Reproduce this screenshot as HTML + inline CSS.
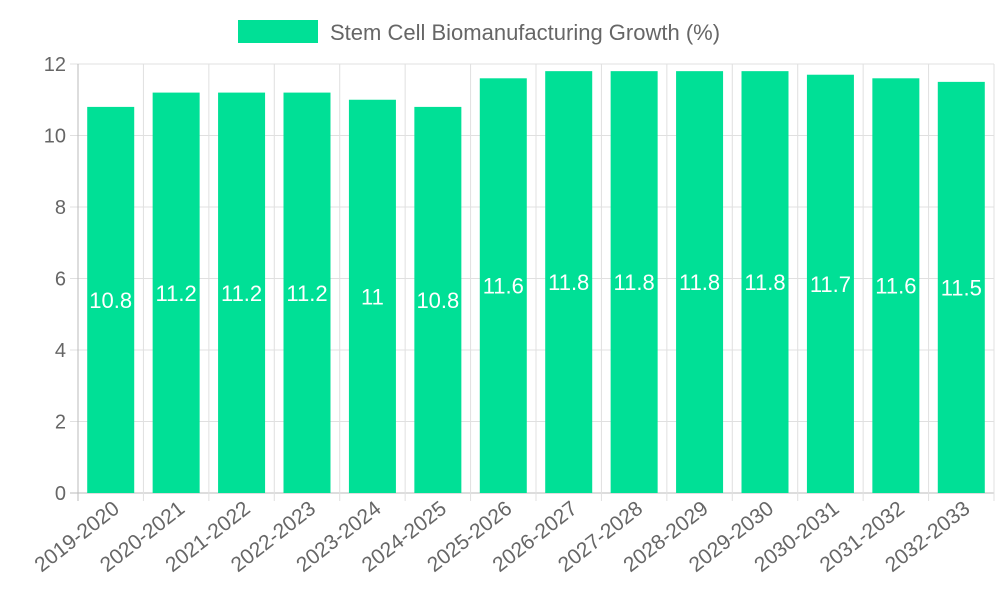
<!DOCTYPE html>
<html><head><meta charset="utf-8"><style>
body{margin:0;background:#fff;}
svg{display:block;font-family:"Liberation Sans",sans-serif;}
</style></head><body>
<svg id="chart" width="1000" height="600">
<g>
<rect x="238" y="20" width="80" height="23" fill="#00e096"/>
<text x="330" y="40" font-size="22" fill="#666">Stem Cell Biomanufacturing Growth (%)</text>
</g>
<g id="grid"></g><g id="bars"></g><g id="labels"></g>
</svg>
<script>
const categories=["2019-2020","2020-2021","2021-2022","2022-2023","2023-2024","2024-2025","2025-2026","2026-2027","2027-2028","2028-2029","2029-2030","2030-2031","2031-2032","2032-2033"];
const values=[10.8,11.2,11.2,11.2,11,10.8,11.6,11.8,11.8,11.8,11.8,11.7,11.6,11.5];
const yTicks=[0,2,4,6,8,10,12];
const NS="http://www.w3.org/2000/svg";
const L=78,R=994,T=64,B=493,yMax=12;
const bw=(R-L)/categories.length;
const y=v=>B-(v/yMax)*(B-T);
const x=i=>L+bw*i;
function mk(tag,attrs,parent,txt){const e=document.createElementNS(NS,tag);for(const k in attrs)e.setAttribute(k,attrs[k]);if(txt!==undefined)e.textContent=txt;parent.appendChild(e);return e;}
const grid=document.getElementById('grid'),bars=document.getElementById('bars'),labels=document.getElementById('labels');
yTicks.forEach(t=>{
 const ln=mk('line',{x1:L-8,x2:R,y1:y(t),y2:y(t),stroke:t===0?'#bbb':'#e0e0e0','stroke-width':1},grid);
 
 
 const tx=mk('text',{x:L-12,y:y(t)+7,'text-anchor':'end','font-size':20,fill:'#666'},grid,String(t));
 
 
});
for(let i=0;i<=categories.length;i++){
 const ln=mk('line',{x1:x(i),x2:x(i),y1:T,y2:B+8,stroke:i===0?'#bbb':'#e0e0e0','stroke-width':1},grid);
 
 
}
categories.forEach((c,i)=>{
 const cx=x(i)+bw/2;
 const r=mk('rect',{x:cx-23.5,y:y(values[i]),width:47,height:B-y(values[i]),fill:'#00e096'},bars);
 
 
 const v=mk('text',{x:cx,y:(y(values[i])+B)/2+8,'text-anchor':'middle','font-size':22,fill:'#fff'},labels,String(values[i]));
 
 
 const t=mk('text',{x:cx+10,y:B+18,'text-anchor':'end','font-size':21,fill:'#666',transform:`rotate(-38 ${cx+10} ${B+18})`},labels,c);
 
 
});
</script>
</body></html>
